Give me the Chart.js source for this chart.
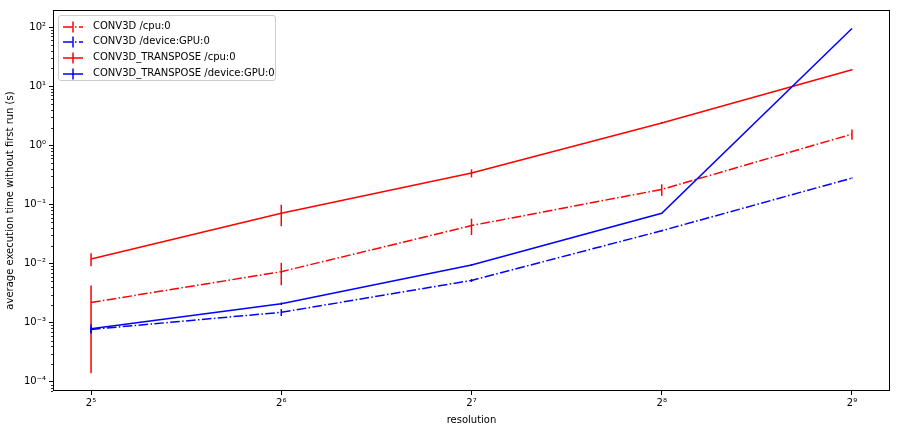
<!DOCTYPE html>
<html>
<head>
<meta charset="utf-8">
<script src="https://cdn.jsdelivr.net/npm/chart.js@4.4.0/dist/chart.umd.min.js"></script>
<style>
  body { margin: 0; background: #fff; }
  #wrap { position: relative; width: 900px; height: 433px; }
  #legend {
    position: absolute; left: 58px; top: 15px; width: 216px; height: 64px;
    border: 1px solid #cccccc; border-radius: 3px; background: rgba(255,255,255,0.8);
    font-family: "DejaVu Sans", sans-serif; font-size: 10px; color: #000;
  }
  .item { position: absolute; left: 3px; height: 14px; }
  .item svg { position: absolute; left: 0; top: 2px; }
  .item span { position: absolute; left: 31px; top: 1px; white-space: nowrap; }
</style>
</head>
<body>
<div id="wrap">
  <canvas id="lineChart" width="900" height="433"></canvas>
  <div id="legend"></div>
</div>
<script>
// data
var resolutions = [32, 64, 128, 256, 512];
var xTickLabels = ['2\u2075', '2\u2076', '2\u2077', '2\u2078', '2\u2079'];
var yTickValues = [1e-4, 1e-3, 1e-2, 1e-1, 1e0, 1e1, 1e2];
var yTickLabels = ['10\u207b\u2074', '10\u207b\u00b3', '10\u207b\u00b2', '10\u207b\u00b9', '10\u2070', '10\u00b9', '10\u00b2'];

var seriesNames = ['CONV3D /cpu:0', 'CONV3D /device:GPU:0', 'CONV3D_TRANSPOSE /cpu:0', 'CONV3D_TRANSPOSE /device:GPU:0'];

var conv3dCpu = [0.0022, 0.0073, 0.044, 0.18, 1.55];
var conv3dCpuErr = [0.00206, 0.003, 0.0135, 0.04, 0.3];
var conv3dGpu = [0.00077, 0.0015, 0.0052, 0.036, 0.28];
var conv3dGpuErr = [0.00008, 0.0002, 0.0003, 0.001, 0.005];
var transposeCpu = [0.012, 0.071, 0.34, 2.4, 19];
var transposeCpuErr = [0.003, 0.028, 0.053, 0.1, 0.4];
var transposeGpu = [0.00079, 0.0021, 0.0095, 0.071, 95];
var transposeGpuErr = [0.00014, 0.0001, 0.0003, 0.001, 0.5];

var dashDot = [9.6, 2.4, 1.5, 2.4];
var colors = ['rgb(255,0,0)', 'rgb(0,0,255)', 'rgb(255,0,0)', 'rgb(0,0,255)'];
var dashes = [dashDot, dashDot, [], []];
var values = [conv3dCpu, conv3dGpu, transposeCpu, transposeGpu];
var errors = [conv3dCpuErr, conv3dGpuErr, transposeCpuErr, transposeGpuErr];

function points(arr) {
    return arr.map(function (v, i) { return { x: resolutions[i], y: v }; });
}

// vertical error bars, drawn right after each line so layering matches
var errorBars = {
    id: 'errorBars',
    afterDatasetDraw: function (chart, args) {
        var i = args.index;
        var ctx = chart.ctx;
        var area = chart.chartArea;
        var yScale = chart.scales.y;
        ctx.save();
        ctx.beginPath();
        ctx.rect(area.left, area.top, area.right - area.left, area.bottom - area.top);
        ctx.clip();
        ctx.strokeStyle = colors[i];
        ctx.lineWidth = 1.5;
        ctx.setLineDash([]);
        args.meta.data.forEach(function (pt, k) {
            var lo = values[i][k] - errors[i][k];
            var hi = values[i][k] + errors[i][k];
            var yLo = lo > 0 ? yScale.getPixelForValue(lo) : area.bottom;
            var yHi = yScale.getPixelForValue(hi);
            ctx.beginPath();
            ctx.moveTo(pt.x, yLo);
            ctx.lineTo(pt.x, yHi);
            ctx.stroke();
        });
        ctx.restore();
    }
};

// box around the axes and minor log ticks on y
var frame = {
    id: 'frame',
    afterDraw: function (chart) {
        var ctx = chart.ctx;
        var a = chart.chartArea;
        var yScale = chart.scales.y;
        ctx.save();
        ctx.strokeStyle = '#000';
        ctx.lineWidth = 1;
        ctx.strokeRect(Math.round(a.left) + 0.5, Math.round(a.top) + 0.5, Math.round(a.right - a.left) - 1, Math.round(a.bottom - a.top) - 1);
        ctx.lineWidth = 0.8;
        for (var e = -5; e <= 2; e++) {
            for (var m = 2; m <= 9; m++) {
                var v = m * Math.pow(10, e);
                if (v < yScale.min || v > yScale.max) continue;
                var y = Math.round(yScale.getPixelForValue(v)) + 0.5;
                ctx.beginPath();
                ctx.moveTo(a.left, y);
                ctx.lineTo(a.left - 2, y);
                ctx.stroke();
            }
        }
        ctx.restore();
    }
};

function renderChart() {
    var ctx = document.getElementById('lineChart').getContext('2d');
    var datasets = seriesNames.map(function (name, i) {
        return {
            label: name,
            data: points(values[i]),
            borderColor: colors[i],
            backgroundColor: colors[i],
            borderWidth: 1.5,
            borderDash: dashes[i],
            pointRadius: 0,
            tension: 0,
            fill: false,
            order: 3 - i
        };
    });

    new Chart(ctx, {
        type: 'line',
        data: { datasets: datasets },
        options: {
            responsive: false,
            animation: false,
            layout: { padding: { top: 10, right: 10, left: 0, bottom: 0 } },
            plugins: { legend: { display: false }, tooltip: { enabled: false } },
            scales: {
                x: {
                    type: 'logarithmic',
                    min: Math.pow(2, 4.8),
                    max: Math.pow(2, 9.2),
                    afterBuildTicks: function (scale) {
                        scale.ticks = resolutions.map(function (v) { return { value: v }; });
                    },
                    afterFit: function (scale) { scale.height = 42; },
                    border: { display: false },
                    grid: { drawOnChartArea: false, drawTicks: true, tickLength: 4, tickColor: '#000', tickWidth: 1 },
                    ticks: {
                        autoSkip: false, maxRotation: 0, padding: 2, color: '#000',
                        font: { family: 'DejaVu Sans', size: 10 },
                        callback: function (value) {
                            var k = resolutions.indexOf(value);
                            return k >= 0 ? xTickLabels[k] : '';
                        }
                    },
                    title: {
                        display: true, text: 'resolution', color: '#000',
                        font: { family: 'DejaVu Sans', size: 10 },
                        padding: { top: 4, bottom: 7 }
                    }
                },
                y: {
                    type: 'logarithmic',
                    min: Math.pow(10, -4.147),
                    max: Math.pow(10, 2.29),
                    afterBuildTicks: function (scale) {
                        scale.ticks = yTickValues.map(function (v) { return { value: v }; });
                    },
                    afterFit: function (scale) { scale.width = 53; },
                    border: { display: false },
                    grid: { drawOnChartArea: false, drawTicks: true, tickLength: 4, tickColor: '#000', tickWidth: 1 },
                    ticks: {
                        autoSkip: false, padding: 3, color: '#000',
                        font: { family: 'DejaVu Sans', size: 10 },
                        callback: function (value) {
                            var k = Math.round(Math.log10(value)) + 4;
                            return yTickLabels[k] || '';
                        }
                    },
                    title: {
                        display: true, text: 'average execution time without first run (s)', color: '#000',
                        font: { family: 'DejaVu Sans', size: 10 },
                        padding: { top: 4, bottom: 4 }
                    }
                }
            }
        },
        plugins: [errorBars, frame]
    });
}

function renderLegend() {
    var box = document.getElementById('legend');
    var tops = [3, 18, 34, 50];
    seriesNames.forEach(function (name, i) {
        var item = document.createElement('div');
        item.className = 'item';
        item.style.top = tops[i] + 'px';
        var dash = dashes[i].length ? ' stroke-dasharray="' + dashes[i].join(',') + '"' : '';
        item.innerHTML =
            '<svg width="22" height="12"><line x1="1" y1="6" x2="21" y2="6" stroke="' + colors[i] + '" stroke-width="1.5"' + dash + '/>' +
            '<line x1="11" y1="0.5" x2="11" y2="11.5" stroke="' + colors[i] + '" stroke-width="1.5"/></svg>' +
            '<span>' + name + '</span>';
        box.appendChild(item);
    });
}

renderChart();
renderLegend();
</script>
</body>
</html>
